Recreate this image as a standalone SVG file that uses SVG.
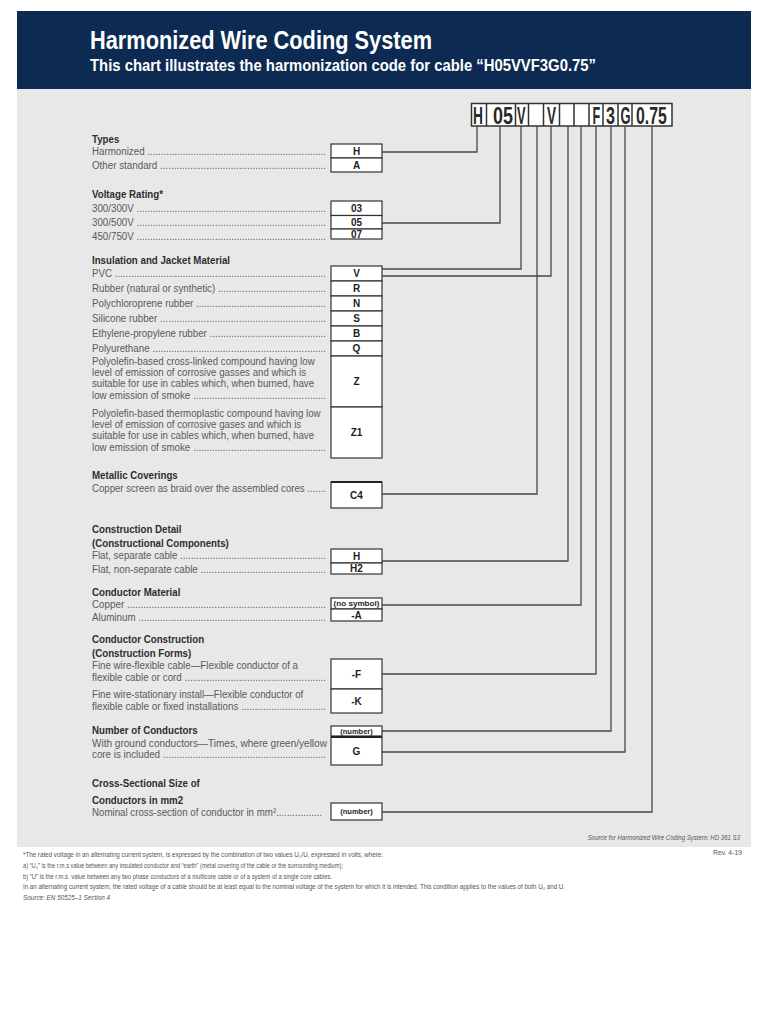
<svg xmlns="http://www.w3.org/2000/svg" width="768" height="1024" viewBox="0 0 768 1024">
<style>
text{font-family:"Liberation Sans",Arial,sans-serif}
.hd{font-weight:bold;fill:#2e2e2e;font-size:11.5px}
.bd{fill:#5a5a5a;font-size:11.5px}
.bx{fill:#fff;stroke:#333;stroke-width:1.2}
.bt{font-weight:bold;font-size:10px;fill:#1e1e1e;text-anchor:middle}
.sm{font-size:7.5px}
.cn{fill:none;stroke:#474747;stroke-width:1.3}
.code{font-weight:bold;font-size:23px;fill:#2a2a2a}
.fn{fill:#555;font-size:7.5px}
</style>
<rect x="0" y="0" width="768" height="1024" fill="#fff"/>
<rect x="17" y="89" width="734" height="758" fill="#e8e8e8"/>
<g id="header">
<rect x="17" y="11" width="734" height="78" fill="#0d2b52"/>
<text x="90" y="48.5" font-size="26" font-weight="bold" fill="#fff" textLength="342" lengthAdjust="spacingAndGlyphs">Harmonized Wire Coding System</text>
<text x="90" y="70.5" font-size="16" font-weight="bold" fill="#fff" textLength="506" lengthAdjust="spacingAndGlyphs">This chart illustrates the harmonization code for cable “H05VVF3G0.75”</text>
</g>
<g id="code">
<rect x="471.5" y="103.5" width="200.5" height="22.5" fill="#fff" stroke="#333" stroke-width="1.5"/>
<path d="M486.5 103.5V126M515.5 103.5V126M528.5 103.5V126M543.5 103.5V126M559.5 103.5V126M574 103.5V126M589 103.5V126M603 103.5V126M618 103.5V126M632 103.5V126" stroke="#333" stroke-width="1.5"/>
<text class="code" transform="translate(473,124) scale(0.6,1)">H</text>
<text class="code" transform="translate(493,124) scale(0.78,1)">05</text>
<text class="code" transform="translate(517,124) scale(0.56,1)">V</text>
<text class="code" transform="translate(547,124) scale(0.59,1)">V</text>
<text class="code" transform="translate(592.5,124) scale(0.55,1)">F</text>
<text class="code" transform="translate(606,124) scale(0.7,1)">3</text>
<text class="code" transform="translate(620.5,124) scale(0.56,1)">G</text>
<text class="code" transform="translate(636,124) scale(0.69,1)">0.75</text>
</g>
<g id="connectors">
<path class="cn" d="M477 126V152H382"/>
<path class="cn" d="M500 126V223H382"/>
<path class="cn" d="M521 126V269H382"/>
<path class="cn" d="M537 126V494H382"/>
<path class="cn" d="M551 126V276H382"/>
<path class="cn" d="M568 126V561H382"/>
<path class="cn" d="M581 126V605H382"/>
<path class="cn" d="M596 126V674H382"/>
<path class="cn" d="M611 126V731H382"/>
<path class="cn" d="M625 126V752H382"/>
<path class="cn" d="M652 126V812H382"/>
</g>
<g id="types">
<g transform="translate(92,0) scale(0.845,1)">
<text class="hd" x="0" y="143">Types</text>
<text class="bd" x="0" y="155" textLength="276.9" lengthAdjust="spacingAndGlyphs">Harmonized ..................................................................</text>
<text class="bd" x="0" y="169" textLength="276.9" lengthAdjust="spacingAndGlyphs">Other standard .............................................................</text>
</g>
<rect class="bx" x="331" y="144" width="51" height="14"/>
<rect class="bx" x="331" y="158" width="51" height="14"/>
<text class="bt" x="356.5" y="154.5">H</text>
<text class="bt" x="356.5" y="168.5">A</text>
</g>
<g id="voltage">
<g transform="translate(92,0) scale(0.845,1)">
<text class="hd" x="0" y="198">Voltage Rating*</text>
<text class="bd" x="0" y="212" textLength="276.9" lengthAdjust="spacingAndGlyphs">300/300V ......................................................................</text>
<text class="bd" x="0" y="226" textLength="276.9" lengthAdjust="spacingAndGlyphs">300/500V ......................................................................</text>
<text class="bd" x="0" y="240" textLength="276.9" lengthAdjust="spacingAndGlyphs">450/750V ......................................................................</text>
</g>
<rect class="bx" x="331" y="201" width="51" height="14.5"/>
<rect class="bx" x="331" y="215.5" width="51" height="13.5"/>
<rect class="bx" x="331" y="229" width="51" height="10"/>
<text class="bt" x="356.5" y="212">03</text>
<text class="bt" x="356.5" y="225.8">05</text>
<text class="bt" x="356.5" y="237.6">07</text>
</g>
<g id="insulation">
<g transform="translate(92,0) scale(0.845,1)">
<text class="hd" x="0" y="264">Insulation and Jacket Material</text>
<text class="bd" x="0" y="277" textLength="276.9" lengthAdjust="spacingAndGlyphs">PVC ..............................................................................</text>
<text class="bd" x="0" y="292" textLength="276.9" lengthAdjust="spacingAndGlyphs">Rubber (natural or synthetic) ........................................</text>
<text class="bd" x="0" y="307" textLength="276.9" lengthAdjust="spacingAndGlyphs">Polychloroprene rubber ................................................</text>
<text class="bd" x="0" y="322" textLength="276.9" lengthAdjust="spacingAndGlyphs">Silicone rubber .............................................................</text>
<text class="bd" x="0" y="337" textLength="276.9" lengthAdjust="spacingAndGlyphs">Ethylene-propylene rubber ...........................................</text>
<text class="bd" x="0" y="352" textLength="276.9" lengthAdjust="spacingAndGlyphs">Polyurethane ................................................................</text>
<text class="bd" x="0" y="365">Polyolefin-based cross-linked compound having low</text>
<text class="bd" x="0" y="376">level of emission of corrosive gasses and which is</text>
<text class="bd" x="0" y="387">suitable for use in cables which, when burned, have</text>
<text class="bd" x="0" y="399" textLength="276.9" lengthAdjust="spacingAndGlyphs">low emission of smoke .................................................</text>
<text class="bd" x="0" y="417">Polyolefin-based thermoplastic compound having low</text>
<text class="bd" x="0" y="428">level of emission of corrosive gases and which is</text>
<text class="bd" x="0" y="439">suitable for use in cables which, when burned, have</text>
<text class="bd" x="0" y="451" textLength="276.9" lengthAdjust="spacingAndGlyphs">low emission of smoke .................................................</text>
</g>
<rect class="bx" x="331" y="266" width="51" height="15"/>
<rect class="bx" x="331" y="281" width="51" height="15"/>
<rect class="bx" x="331" y="296" width="51" height="15"/>
<rect class="bx" x="331" y="311" width="51" height="15"/>
<rect class="bx" x="331" y="326" width="51" height="15"/>
<rect class="bx" x="331" y="341" width="51" height="15"/>
<rect class="bx" x="331" y="356" width="51" height="51"/>
<rect class="bx" x="331" y="407" width="51" height="51"/>
<text class="bt" x="356.5" y="277">V</text>
<text class="bt" x="356.5" y="292">R</text>
<text class="bt" x="356.5" y="307">N</text>
<text class="bt" x="356.5" y="322">S</text>
<text class="bt" x="356.5" y="337">B</text>
<text class="bt" x="356.5" y="352">Q</text>
<text class="bt" x="356.5" y="385">Z</text>
<text class="bt" x="356.5" y="436">Z1</text>
</g>
<g id="metallic">
<g transform="translate(92,0) scale(0.845,1)">
<text class="hd" x="0" y="479">Metallic Coverings</text>
<text class="bd" x="0" y="492" textLength="276.9" lengthAdjust="spacingAndGlyphs">Copper screen as braid over the assembled cores .......</text>
</g>
<rect class="bx" x="331" y="482" width="51" height="26"/>
<line x1="331" y1="482" x2="382" y2="482" stroke="#222" stroke-width="1.8"/>
<text class="bt" x="356.5" y="498.5">C4</text>
</g>
<g id="construction-detail">
<g transform="translate(92,0) scale(0.845,1)">
<text class="hd" x="0" y="533">Construction Detail</text>
<text class="hd" x="0" y="547">(Constructional Components)</text>
<text class="bd" x="0" y="559" textLength="276.9" lengthAdjust="spacingAndGlyphs">Flat, separate cable ......................................................</text>
<text class="bd" x="0" y="573" textLength="276.9" lengthAdjust="spacingAndGlyphs">Flat, non-separate cable ..............................................</text>
</g>
<rect class="bx" x="331" y="549" width="51" height="14"/>
<rect class="bx" x="331" y="563" width="51" height="11"/>
<text class="bt" x="356.5" y="559.5">H</text>
<text class="bt" x="356.5" y="572.2">H2</text>
</g>
<g id="conductor-material">
<g transform="translate(92,0) scale(0.845,1)">
<text class="hd" x="0" y="596">Conductor Material</text>
<text class="bd" x="0" y="608" textLength="276.9" lengthAdjust="spacingAndGlyphs">Copper .........................................................................</text>
<text class="bd" x="0" y="621" textLength="276.9" lengthAdjust="spacingAndGlyphs">Aluminum .....................................................................</text>
</g>
<rect class="bx" x="331" y="598" width="51" height="11"/>
<rect class="bx" x="331" y="609" width="51" height="12"/>
<text class="bt sm" x="356.5" y="606.3" textLength="46" lengthAdjust="spacingAndGlyphs">(no symbol)</text>
<text class="bt" x="356.5" y="618.6">-A</text>
</g>
<g id="conductor-construction">
<g transform="translate(92,0) scale(0.845,1)">
<text class="hd" x="0" y="643">Conductor Construction</text>
<text class="hd" x="0" y="657">(Construction Forms)</text>
<text class="bd" x="0" y="669">Fine wire-flexible cable—Flexible conductor of a</text>
<text class="bd" x="0" y="681" textLength="276.9" lengthAdjust="spacingAndGlyphs">flexible cable or cord ....................................................</text>
<text class="bd" x="0" y="698">Fine wire-stationary install—Flexible conductor of</text>
<text class="bd" x="0" y="710" textLength="276.9" lengthAdjust="spacingAndGlyphs">flexible cable or fixed installations ...............................</text>
</g>
<rect class="bx" x="331" y="659" width="51" height="30"/>
<rect class="bx" x="331" y="689" width="51" height="24"/>
<text class="bt" x="356.5" y="677.5">-F</text>
<text class="bt" x="356.5" y="704.5">-K</text>
</g>
<g id="number-of-conductors">
<g transform="translate(92,0) scale(0.845,1)">
<text class="hd" x="0" y="734">Number of Conductors</text>
<text class="bd" x="0" y="747" textLength="278" lengthAdjust="spacingAndGlyphs">With ground conductors—Times, where green/yellow</text>
<text class="bd" x="0" y="758" textLength="276.9" lengthAdjust="spacingAndGlyphs">core is included ............................................................</text>
</g>
<rect class="bx" x="331" y="726" width="51" height="10"/>
<rect class="bx" x="331" y="737" width="51" height="28"/>
<line x1="331" y1="737" x2="382" y2="737" stroke="#222" stroke-width="1.8"/>
<text class="bt sm" x="356.5" y="733.6">(number)</text>
<text class="bt" x="356.5" y="754.5">G</text>
</g>
<g id="cross-section">
<g transform="translate(92,0) scale(0.845,1)">
<text class="hd" x="0" y="787">Cross-Sectional Size of</text>
<text class="hd" x="0" y="804">Conductors in mm2</text>
<text class="bd" x="0" y="816" textLength="272.2" lengthAdjust="spacingAndGlyphs">Nominal cross-section of conductor in mm².................</text>
</g>
<rect class="bx" x="331" y="803" width="51" height="17"/>
<text class="bt sm" x="356.5" y="814.3">(number)</text>
</g>
<g id="footer">
<text class="fn" font-size="7" font-style="italic" text-anchor="end" transform="translate(740,840) scale(0.81,1)">Source for Harmonized Wire Coding System: HD 361 S3</text>
<text class="fn" x="713" y="855" textLength="29" lengthAdjust="spacingAndGlyphs">Rev. 4-19</text>
<text class="fn" x="23" y="857" textLength="360" lengthAdjust="spacingAndGlyphs">*The rated voltage in an alternating current system, is expressed by the combination of two values U₀/U, expressed in volts, where:</text>
<text class="fn" x="23" y="868" textLength="320" lengthAdjust="spacingAndGlyphs">a) “U₀” is the r.m.s value between any insulated conductor and “earth” (metal covering of the cable or the surrounding medium);</text>
<text class="fn" x="23" y="879" textLength="309" lengthAdjust="spacingAndGlyphs">b) “U” is the r.m.s. value between any two phase conductors of a multicore cable or of a system of a single core cables.</text>
<text class="fn" x="23" y="889" font-size="7" textLength="542" lengthAdjust="spacingAndGlyphs">In an alternating current system, the rated voltage of a cable should be at least equal to the nominal voltage of the system for which it is intended. This condition applies to the values of both U₀ and U.</text>
<text class="fn" x="23" y="900" font-style="italic" textLength="87" lengthAdjust="spacingAndGlyphs">Source: EN 50525–1 Section 4</text>
</g>
</svg>
